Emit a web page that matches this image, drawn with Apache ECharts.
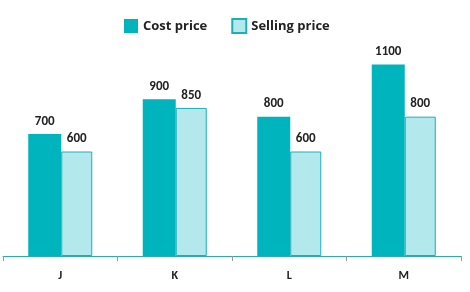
<!DOCTYPE html>
<html><head><meta charset="utf-8">
<script src="https://cdn.jsdelivr.net/npm/echarts@6/dist/echarts.min.js"></script>
<style>html,body{margin:0;padding:0;background:#fff}#c{width:470px;height:292px}</style>
</head><body><div id="c"></div>
<script>
var categories = ['J', 'K', 'L', 'M'];
var costPrice = [700, 900, 800, 1100];
var sellingPrice = [600, 850, 600, 800];
var seriesNames = ['Cost price', 'Selling price'];

var chart = echarts.init(document.getElementById('c'), null, {renderer: 'canvas'});
var font = 'Calibri, Carlito, Lato, "Open Sans", sans-serif';
chart.setOption({
  animation: false,
  textStyle: {fontFamily: font},
  legend: {
    top: 18, left: 124, padding: 0, itemWidth: 14, itemHeight: 14, itemGap: 24,
    icon: 'rect',
    textStyle: {fontSize: 13, fontWeight: 'bold', color: '#222', fontFamily: '"Open Sans", sans-serif'},
    data: seriesNames
  },
  grid: {left: 3, right: 9, top: 47, bottom: 36},
  xAxis: {
    type: 'category', data: categories,
    axisLine: {lineStyle: {color: '#2AAAB4', width: 1}},
    axisTick: {show: true, length: 5, lineStyle: {color: '#999'}},
    axisLabel: {color: '#222', fontWeight: 'bold', fontSize: 12, margin: 14, fontFamily: font}
  },
  yAxis: {type: 'value', min: 0, max: 1200, show: false, splitLine: {show: false}},
  series: [
    {
      name: seriesNames[0], type: 'bar', data: costPrice, barWidth: 33, barGap: '0%',
      itemStyle: {color: '#00B4BE'},
      label: {show: true, position: 'top', distance: 6, color: '#222', fontWeight: 'bold', fontSize: 13, fontFamily: font}
    },
    {
      name: seriesNames[1], type: 'bar', data: sellingPrice, barWidth: 31,
      itemStyle: {color: '#B3E8EC', borderColor: '#1CAFB9', borderWidth: 1},
      label: {show: true, position: 'top', distance: 6, color: '#222', fontWeight: 'bold', fontSize: 13, fontFamily: font}
    }
  ]
});
</script></body></html>
